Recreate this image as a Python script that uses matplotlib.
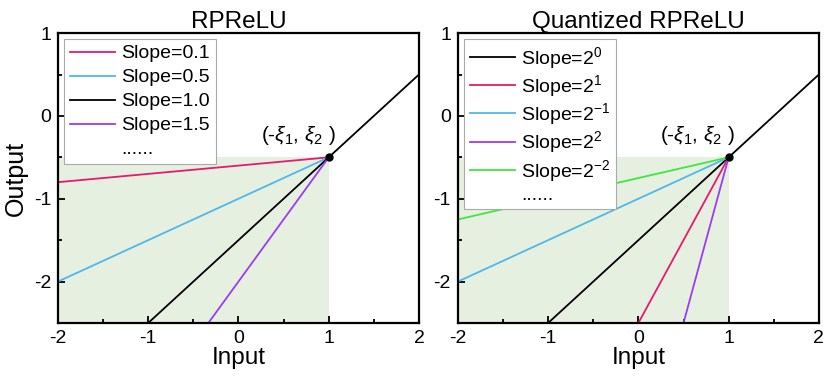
import matplotlib
matplotlib.use("Agg")
import matplotlib.pyplot as plt
from matplotlib.lines import Line2D
import numpy as np

plt.rcParams['font.family'] = ['Liberation Sans', 'DejaVu Sans']
plt.rcParams['mathtext.fontset'] = 'custom'
plt.rcParams['mathtext.rm'] = 'Liberation Sans'
plt.rcParams['mathtext.it'] = 'Liberation Sans:italic'
plt.rcParams['axes.unicode_minus'] = False

# knee point (-xi1, xi2)
knee_x = 1.0
knee_y = -0.5

# left panel: RPReLU
left_slopes = [0.1, 0.5, 1.0, 1.5]
left_labels = ['Slope=0.1', 'Slope=0.5', 'Slope=1.0', 'Slope=1.5']
left_colors = ['#E8196E', '#4DB8EC', '#000000', '#9B3CF0']

# right panel: quantized RPReLU
right_slopes = [2**0, 2**1, 2**-1, 2**2, 2**-2]
right_labels = ['Slope=2$^{0}$', 'Slope=2$^{1}$', 'Slope=2$^{-1}$',
                'Slope=2$^{2}$', 'Slope=2$^{-2}$']
right_colors = ['#000000', '#E8196E', '#4DB8EC', '#9B3CF0', '#3DE83D']

fig = plt.figure(figsize=(8.28, 3.76), dpi=100)
ax1 = fig.add_axes([0.070, 0.141, 0.436, 0.771])
ax2 = fig.add_axes([0.553, 0.141, 0.436, 0.771])


def draw_panel(ax, slopes, labels, colors, title, spacing):
    ax.fill_between([-2, knee_x], -2.5, knee_y, color='#E6F0E1', lw=0, zorder=0)
    handles = []
    xs = np.array([-2.0, knee_x])
    for s, lab, c in zip(slopes, labels, colors):
        ax.plot(xs, knee_y + s * (xs - knee_x), color=c, lw=1.3, zorder=2)
        handles.append(Line2D([], [], color=c, lw=1.3, label=lab))
    # positive side, slope 1
    xp = np.array([knee_x, 2.0])
    ax.plot(xp, knee_y + (xp - knee_x), color='black', lw=1.3, zorder=2)
    ax.plot([knee_x], [knee_y], 'o', color='black', ms=5, zorder=4)
    ax.text(0.66, -0.24, r'(-$\xi_1$, $\xi_2$ )', fontsize=15, ha='center', va='center')

    handles.append(Line2D([], [], color='none', label='......'))
    leg = ax.legend(handles=handles, loc='upper left', fontsize=14, frameon=True,
                    fancybox=False, framealpha=1, edgecolor='#AAAAAA',
                    handlelength=2.35, handletextpad=0.3, labelspacing=spacing,
                    borderaxespad=0.3, borderpad=0.3)
    leg.get_frame().set_linewidth(0.8)
    leg.set_zorder(5)

    ax.set_xlim(-2, 2)
    ax.set_ylim(-2.5, 1)
    ax.set_xticks([-2, -1, 0, 1, 2])
    ax.set_yticks([-2, -1, 0, 1])
    ax.set_xticks(np.arange(-1.5, 2, 1.0), minor=True)
    ax.set_yticks([-1.5, -0.5, 0.5], minor=True)
    ax.tick_params(which='both', direction='in', labelsize=14, width=1.3, pad=5)
    ax.tick_params(which='major', length=5)
    ax.tick_params(which='minor', length=3)
    for sp in ax.spines.values():
        sp.set_linewidth(1.6)
    ax.set_title(title, fontsize=17.5, pad=3)
    ax.set_xlabel('Input', fontsize=17.5, labelpad=0)


draw_panel(ax1, left_slopes, left_labels, left_colors, 'RPReLU', 0.33)
draw_panel(ax2, right_slopes, right_labels, right_colors, 'Quantized RPReLU', 0.12)
ax1.set_ylabel('Output', fontsize=18, labelpad=4)

fig.savefig('out.png', dpi=100)
